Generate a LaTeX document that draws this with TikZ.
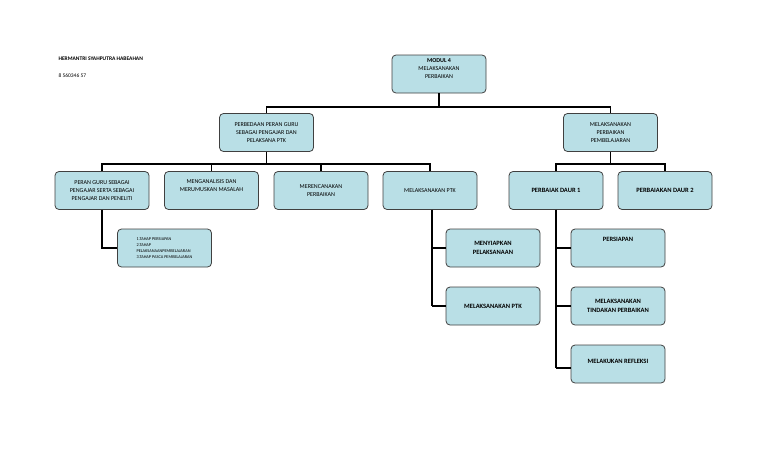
\documentclass[tikz,border=0pt]{standalone}
\usepackage{fontspec}
\setmainfont{Carlito}
\begin{document}
\begin{tikzpicture}[x=1pt,y=-1pt,
 bx/.style={draw=black!75,line width=0.8pt,fill=boxblue,rounded corners=4pt,minimum width=94pt,minimum height=38pt,align=center,font=\fontsize{6}{8}\selectfont,inner sep=1pt},
 ln/.style={line width=1.4pt,black}]
\definecolor{boxblue}{HTML}{B9DFE6}
\useasboundingbox (0,0) rectangle (768,466);
\node[anchor=west,font=\bfseries\fontsize{5.5}{6}\selectfont] (nm) at (55,59) {HERMANTRI SYAHPUTRA HABEAHAN};
\node[anchor=west,font=\fontsize{5.5}{6}\selectfont] (nim) at (55,76) {8 560346 57};
\node[bx,minimum height=38pt] (m) at (439,74) {\textbf{MODUL 4}\\MELAKSANAKAN\\PERBAIKAN\\[3pt]};
\node[bx] (p) at (266.5,132.5) {PERBEDAAN PERAN GURU\\SEBAGAI PENGAJAR DAN\\PELAKSANA PTK};
\node[bx] (r) at (610.5,132.5) {MELAKSANAKAN\\PERBAIKAN\\PEMBELAJARAN};
\node[bx] (a) at (102,190.5) {PERAN GURU SEBAGAI\\PENGAJAR SERTA SEBAGAI\\PENGAJAR DAN PENELITI};
\node[bx,text depth=10pt] (b) at (211.5,190.5) {MENGANALISIS DAN\\MERUMUSKAN MASALAH};
\node[bx] (c) at (321,190.5) {MERENCANAKAN\\PERBAIKAN};
\node[bx] (d) at (430,190.5) {MELAKSANAKAN PTK};
\node[bx,font=\bfseries\fontsize{6.5}{9}\selectfont] (e) at (556,190.5) {PERBAIAK DAUR 1};
\node[bx,font=\bfseries\fontsize{6.5}{9}\selectfont] (f) at (665,190.5) {PERBAIAKAN DAUR 2};
\node[bx,align=left,font=\fontsize{4.3}{6}\selectfont] (t) at (164.5,248) {1.TAHAP PERSIAPAN\\2.TAHAP\\PELAKSANAANPEMBELAJARAN\\3.TAHAP PASCA PEMBELAJARAN};
\node[bx,font=\bfseries\fontsize{6.5}{9}\selectfont] (g) at (493,248) {MENYIAPKAN\\PELAKSANAAN};
\node[bx,font=\bfseries\fontsize{6.5}{9}\selectfont] (h) at (493,306) {MELAKSANAKAN PTK};
\node[bx,font=\bfseries\fontsize{6.5}{9}\selectfont,text depth=18pt] (i) at (618,248) {PERSIAPAN};
\node[bx,font=\bfseries\fontsize{6.5}{9}\selectfont] (j) at (618,306) {MELAKSANAKAN\\TINDAKAN PERBAIKAN};
\node[bx,font=\bfseries\fontsize{6.5}{9}\selectfont,text height=-2pt] (k) at (618,364) {\\[10pt]MELAKUKAN REFLEKSI};
\draw[ln] (m.south) -- (439,107);
\draw[ln] (p.north) |- (439,107) -| (r.north);
\draw[ln] (p.south) -- (266.5,164);
\foreach \n in {a,b,c,d} \draw[ln] (\n.north) |- (266.5,164);
\draw[ln] (r.south) -- (610.5,164);
\draw[ln] (e.north) |- (610.5,164) -| (f.north);
\draw[ln] (a.south) |- (t.west);
\draw[ln] (432,209.5) -- (432,306);
\draw[ln] (432,248) -- (g.west);
\draw[ln] (432,306) -- (h.west);
\draw[ln] (556,209.5) -- (556,368);
\draw[ln] (556,248) -- (i.west);
\draw[ln] (556,306) -- (j.west);
\draw[ln] (556,368) -- (k.west |- 0,368);
\end{tikzpicture}
\end{document}
